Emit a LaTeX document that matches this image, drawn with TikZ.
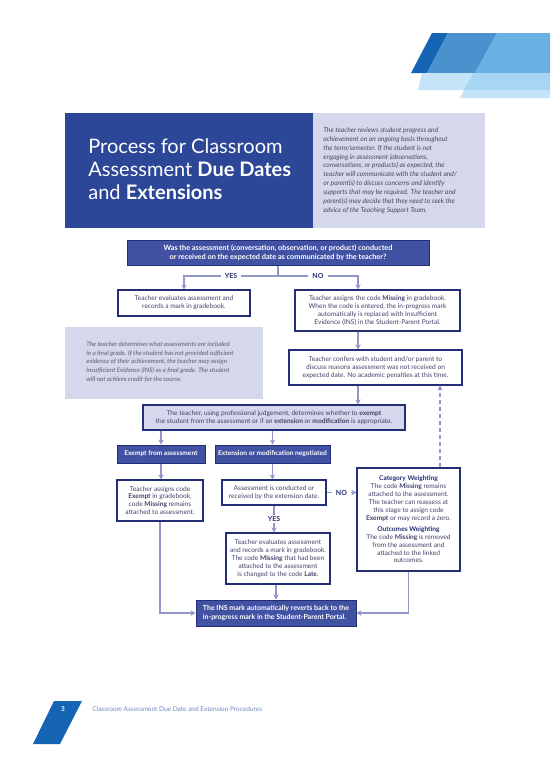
\documentclass[tikz,border=0pt]{standalone}
\usepackage{fontspec}
\setmainfont{Lato}
\usetikzlibrary{arrows.meta}

\definecolor{hdrblue}{RGB}{44,70,152}
\definecolor{boxblue}{RGB}{66,82,163}
\definecolor{navyline}{RGB}{36,46,118}
\definecolor{lavender}{RGB}{213,215,236}
\definecolor{linkgrey}{RGB}{146,150,202}
\definecolor{bodytext}{RGB}{62,66,104}
\definecolor{notetext}{RGB}{118,120,142}
\definecolor{introtext}{RGB}{72,72,86}
\definecolor{ribbonA}{RGB}{21,101,180}
\definecolor{ribbonB}{RGB}{74,146,206}
\definecolor{ribbonC}{RGB}{106,176,226}
\definecolor{ribbonD}{RGB}{196,228,247}
\definecolor{ribbonE}{RGB}{166,214,242}
\definecolor{foottext}{RGB}{112,140,190}

\tikzset{every picture/.style={line width=0.75pt}}
\tikzset{
  flowbox/.style={draw=navyline, line width=1.2pt, fill=white, text=bodytext, align=center, inner sep=0pt, font=\fontsize{6.6}{7.9}\selectfont},
  darkbox/.style={draw=navyline, line width=1pt, fill=boxblue, text=white, align=center, inner sep=0pt, font=\bfseries\fontsize{7}{9}\selectfont},
  link/.style={draw=linkgrey, line width=1.5pt, -{Stealth[length=5pt,width=5.5pt]}},
  plain/.style={draw=linkgrey, line width=1.5pt},
  lbl/.style={fill=white, text=navyline, inner xsep=4pt, inner ysep=1pt, font=\bfseries\fontsize{7}{8}\selectfont},
}

\begin{document}
\begin{tikzpicture}[x=1pt,y=1pt,yscale=-1,xscale=1]
	\useasboundingbox[fill=white] (0,0) rectangle (550,777);

	%Shape: Ribbon top right
	\fill[ribbonA] (432,33) -- (448,33) -- (427,73) -- (411,73) -- cycle;
	\fill[ribbonB] (448,33) -- (497,33) -- (475,73) -- (427,73) -- cycle;
	\fill[ribbonC] (497,33) -- (550,33) -- (550,73) -- (475,73) -- cycle;
	\fill[ribbonD] (422,73) -- (473,73) -- (464,90) -- (418,90) -- cycle;
	\fill[ribbonE] (473,73) -- (550,73) -- (550,90) -- (464,90) -- cycle;
	\fill[ribbonD] (464,90) -- (550,90) -- (550,98) -- (460,98) -- cycle;

	%Shape: Header panels
	\fill[hdrblue] (65,113) rectangle (313,228);
	\fill[lavender] (313,113) rectangle (485,228);

	% Text Node
	\node[anchor=north west, inner sep=0pt, align=left, text=white, font=\fontsize{20}{23}\selectfont] (title) at (88,138)
		{Process for Classroom\\Assessment \textbf{Due Dates}\\and \textbf{Extensions}};
	% Text Node
	\node[anchor=north west, inner sep=0pt, align=left, text=introtext, font=\itshape\fontsize{6.7}{8.9}\selectfont] (intro) at (323,127)
		{The teacher reviews student progress and\\achievement on an ongoing basis throughout\\the term/semester. If the student is not\\engaging in assessment (observations,\\conversations, or products) as expected, the\\teacher will communicate with the student and/\\or parent(s) to discuss concerns and identify\\supports that may be required. The teacher and\\parent(s) may decide that they need to seek the\\advice of the Teaching Support Team.};

	%Shape: Question
	\node[darkbox, minimum width=302, minimum height=25, font=\bfseries\fontsize{7.3}{9.3}\selectfont] (question) at (278,252.5)
		{Was the assessment (conversation, observation, or product) conducted\\or received on the expected date as communicated by the teacher?};

	%Shape: First answers
	\node[flowbox, minimum width=132, minimum height=26] (evalA) at (184,303)
		{Teacher evaluates assessment and\\records a mark in gradebook.};
	\node[flowbox, minimum width=165, minimum height=41] (missing) at (377.5,310.5)
		{Teacher assigns the code \textbf{Missing} in gradebook.\\When the code is entered, the in-progress mark\\automatically is replaced with Insufficient\\Evidence (INS) in the Student-Parent Portal.};

	%Shape: Side note
	\node[fill=lavender, minimum width=198, minimum height=72, inner sep=0pt] (note) at (164,363) {};
	\node[anchor=west, inner sep=0pt, align=left, text=notetext, font=\bfseries\itshape\fontsize{6.2}{8.8}\selectfont] (notetxt) at (86,362)
		{The teacher determines what assessments are included\\in a final grade. If the student has not provided sufficient\\evidence of their achievement, the teacher may assign\\Insufficient Evidence (INS) as a final grade. The student\\will not achieve credit for the course.};

	\node[flowbox, minimum width=173, minimum height=35] (confer) at (375.5,367.5)
		{Teacher confers with student and/or parent to\\discuss reasons assessment was not received on\\expected date. No academic penalties at this time.};

	\node[flowbox, fill=lavender, minimum width=262, minimum height=25] (judge) at (274,417.5)
		{The teacher, using professional judgement, determines whether to \textbf{exempt}\\the student from the assessment or if an \textbf{extension} or \textbf{modification} is appropriate.};

	%Shape: Options
	\node[darkbox, minimum width=88, minimum height=18, font=\bfseries\fontsize{6.6}{8}\selectfont] (exempt) at (161,454) {Exempt from assessment};
	\node[darkbox, minimum width=115, minimum height=18, font=\bfseries\fontsize{6.6}{8}\selectfont] (ext) at (272.5,454) {Extension or modification negotiated};

	\node[flowbox, minimum width=86, minimum height=41] (exemptcode) at (160,500.5)
		{Teacher assigns code\\\textbf{Exempt} in gradebook,\\code \textbf{Missing} remains\\attached to assessment.};
	\node[flowbox, minimum width=104, minimum height=25] (conducted) at (274,492.5)
		{Assessment is conducted or\\received by the extension date.};
	\node[flowbox, minimum width=103, minimum height=103] (category) at (408.5,519.5)
		{\textcolor{navyline}{\textbf{Category Weighting}}\\The code \textbf{Missing} remains\\attached to the assessment.\\The teacher can reassess at\\this stage to assign code\\\textbf{Exempt} or may record a zero.\\[3pt]\textcolor{navyline}{\textbf{Outcomes Weighting}}\\The code \textbf{Missing} is removed\\from the assessment and\\attached to the linked\\outcomes.};
	\node[flowbox, minimum width=104, minimum height=51] (late) at (278,558.5)
		{Teacher evaluates assessment\\and records a mark in gradebook.\\The code \textbf{Missing} that had been\\attached to the assessment\\is changed to the code \textbf{Late}.};

	\node[darkbox, minimum width=160, minimum height=26, align=left] (final) at (276,613)
		{The INS mark automatically reverts back to the\\in-progress mark in the Student-Parent Portal.};

	%Straight Lines
	\coordinate (fork) at (278,276);
	\coordinate (noturn) at (358,276);
	\coordinate (dashx) at (440,0);
	\draw[plain] (question.south) -- (fork);
	\draw[link] (fork) -| node[lbl, pos=0.25] {YES} (evalA.north);
	\draw[link] (fork) -- node[lbl] {NO} (noturn) -- (noturn |- missing.north);
	\draw[link] (missing.south -| noturn) -- (confer.north -| noturn);
	\draw[link] (confer.south -| noturn) -- (judge.north -| noturn);
	\draw[link, dash pattern=on 4pt off 3pt, line width=1.3pt] (category.north -| dashx) -- (confer.south -| dashx);
	\draw[link] (judge.south -| exempt) -- (exempt.north);
	\draw[link] (judge.south -| ext) -- (ext.north);
	\draw[link] (exempt.south) -- (exempt.south |- exemptcode.north);
	\draw[link] (ext.south) -- (ext.south |- conducted.north);
	\draw[link] (conducted.east) -- node[lbl] {NO} (conducted.east -| category.west);
	\draw[link] (conducted.south) -- node[lbl] {YES} (conducted.south |- late.north);
	\draw[link] (late.south -| final) -- (final.north);
	\draw[link] (exemptcode.south) |- (final.west);
	\draw[link] (category.south) |- (final.east);

	%Shape: Footer
	\fill[ribbonA] (54,701) -- (82,701) -- (60,744) -- (33,744) -- cycle;
	% Text Node
	\node[text=white, inner sep=0pt, font=\bfseries\fontsize{6.5}{7}\selectfont] (pagenum) at (63,709) {3};
	% Text Node
	\node[anchor=west, text=foottext, inner sep=0pt, font=\fontsize{6.5}{7}\selectfont] (footer) at (92,709) {Classroom Assessment Due Date and Extension Procedures};

\end{tikzpicture}
\end{document}
